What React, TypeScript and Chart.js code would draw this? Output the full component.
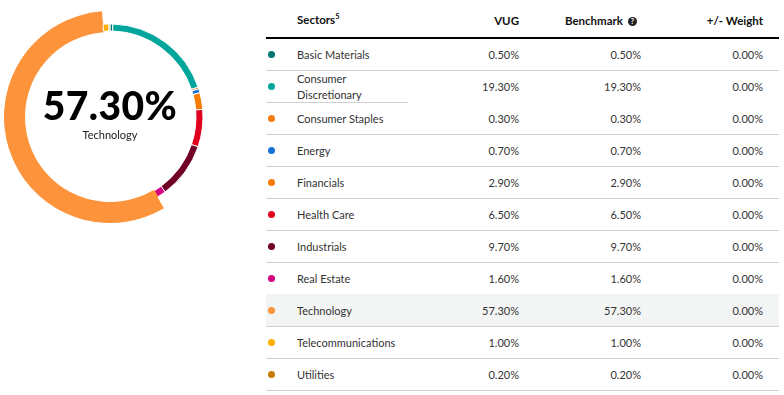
import React, { useEffect, useRef } from "react";
import { Chart, registerables } from "chart.js";

Chart.register(...registerables);

const sectors = [
  "Basic Materials",
  "Consumer Discretionary",
  "Consumer Staples",
  "Energy",
  "Financials",
  "Health Care",
  "Industrials",
  "Real Estate",
  "Technology",
  "Telecommunications",
  "Utilities",
];
const vugValues = [0.5, 19.3, 0.3, 0.7, 2.9, 6.5, 9.7, 1.6, 57.3, 1.0, 0.2];
const benchmarkValues = [0.5, 19.3, 0.3, 0.7, 2.9, 6.5, 9.7, 1.6, 57.3, 1.0, 0.2];
const weightDiff = [0, 0, 0, 0, 0, 0, 0, 0, 0, 0, 0];
const sectorColors = [
  "#00776e",
  "#00a69c",
  "#f57c12",
  "#1673d6",
  "#f77b05",
  "#e2001f",
  "#710026",
  "#d30080",
  "#fd933a",
  "#ffae00",
  "#c77c09",
];
const highlightIndex = 8;

const fmt = (v: number) => v.toFixed(2) + "%";

const FONT = "Lato, 'Open Sans', sans-serif";

function Donut() {
  const ref = useRef<HTMLCanvasElement | null>(null);
  useEffect(() => {
    if (!ref.current) return;
    const chart = new Chart(ref.current, {
      type: "doughnut",
      data: {
        labels: sectors,
        datasets: [
          {
            data: vugValues,
            backgroundColor: sectorColors.map((c, i) => (i === highlightIndex ? c : "rgba(0,0,0,0)")),
            borderWidth: 0,
            hoverBorderWidth: 0,
            offset: 0,
            hoverOffset: 0,
            weight: 13,
          } as any,
          {
            data: vugValues,
            backgroundColor: sectorColors,
            borderColor: (ctx: any) => (ctx.dataIndex === highlightIndex ? sectorColors[highlightIndex] : "#ffffff"),
            borderWidth: (ctx: any) => (ctx.dataIndex === highlightIndex ? 2 : 1),
            hoverBorderWidth: 0,
            offset: 0,
            hoverOffset: 0,
            weight: 7,
          } as any,
        ],
      },
      options: {
        animation: false,
        responsive: true,
        maintainAspectRatio: false,
        cutout: 86,
        events: [],
        layout: { padding: 0 },
        plugins: {
          legend: { display: false },
          tooltip: { enabled: false },
        },
      },
    });
    return () => chart.destroy();
  }, []);
  return (
    <div style={{ position: "absolute", left: 4, top: 11, width: 212, height: 212 }}>
      <canvas ref={ref} />
    </div>
  );
}

const COLS = {
  left: 266,
  right: 779,
  dotX: 271,
  nameX: 297,
  vugRight: 519,
  benchRight: 641,
  weightRight: 763,
};

export default function App() {
  const headerTop = 0;
  const headerH = 37;
  const rowStart = 39;
  const rowH = 32;
  return (
    <div
      style={{
        position: "absolute",
        left: 0,
        top: 0,
        width: 784,
        height: 395,
        background: "#ffffff",
        fontFamily: FONT,
        overflow: "hidden",
      }}
    >
      <Donut />
      <div
        style={{
          position: "absolute",
          left: 10,
          width: 200,
          top: 87.5,
          textAlign: "center",
          fontSize: 39,
          fontWeight: 900,
          color: "#000",
          lineHeight: "34px",
          letterSpacing: 0.4,
        }}
      >
        {fmt(vugValues[highlightIndex])}
      </div>
      <div
        style={{
          position: "absolute",
          left: 10,
          width: 200,
          top: 129,
          textAlign: "center",
          fontSize: 11,
          color: "#222",
          lineHeight: "12px",
        }}
      >
        {sectors[highlightIndex]}
      </div>

      {/* header */}
      <div
        style={{
          position: "absolute",
          left: COLS.left,
          top: headerTop,
          width: COLS.right - COLS.left,
          height: headerH,
          borderBottom: "2px solid #000",
          fontSize: 11.5,
          fontWeight: 700,
          color: "#111",
        }}
      >
        <div style={{ position: "absolute", left: COLS.nameX - COLS.left, top: 13, lineHeight: "14px" }}>
          Sectors<sup style={{ fontSize: 7.5, verticalAlign: "top", position: "relative", top: -3 }}>5</sup>
        </div>
        <div
          style={{
            position: "absolute",
            right: COLS.right - COLS.vugRight,
            top: 14,
            lineHeight: "14px",
          }}
        >
          VUG
        </div>
        <div
          style={{
            position: "absolute",
            right: COLS.right - COLS.benchRight + 4,
            top: 14,
            lineHeight: "14px",
            display: "flex",
            alignItems: "center",
          }}
        >
          Benchmark
          <span
            style={{
              display: "inline-flex",
              alignItems: "center",
              justifyContent: "center",
              width: 9,
              height: 9,
              borderRadius: "50%",
              background: "#222",
              color: "#fff",
              fontSize: 7,
              fontWeight: 900,
              marginLeft: 5,
              lineHeight: "9px",
            }}
          >
            ?
          </span>
        </div>
        <div
          style={{
            position: "absolute",
            right: COLS.right - COLS.weightRight,
            top: 14,
            lineHeight: "14px",
          }}
        >
          +/- Weight
        </div>
      </div>

      {sectors.map((s, i) => {
        const top = rowStart + i * rowH;
        const lineWidth = i === 1 ? 408 - COLS.left : COLS.right - COLS.left;
        return (
          <div key={s}>
            {i === highlightIndex && (
              <div
                style={{
                  position: "absolute",
                  left: COLS.left,
                  top: top - 1,
                  width: COLS.right - COLS.left,
                  height: rowH,
                  background: "#f3f5f4",
                }}
              />
            )}
            <div
              style={{
                position: "absolute",
                left: COLS.dotX - 3.5,
                top: top + 12,
                width: 7,
                height: 7,
                borderRadius: "50%",
                background: sectorColors[i],
              }}
            />
            <div
              style={{
                position: "absolute",
                left: COLS.nameX,
                top: top,
                width: 110,
                height: rowH - 1,
                display: "flex",
                alignItems: "center",
                fontSize: 11,
                lineHeight: "16px",
                color: "#333",
              }}
            >
              {s}
            </div>
            {[
              [vugValues[i], COLS.vugRight],
              [benchmarkValues[i], COLS.benchRight],
              [weightDiff[i], COLS.weightRight],
            ].map(([v, r], k) => (
              <div
                key={k}
                style={{
                  position: "absolute",
                  right: 784 - (r as number),
                  top: top,
                  height: rowH - 1,
                  display: "flex",
                  alignItems: "center",
                  fontSize: 11,
                  color: "#333",
                }}
              >
                {fmt(v as number)}
              </div>
            ))}
            <div
              style={{
                position: "absolute",
                left: COLS.left,
                top: top + rowH - 1,
                width: lineWidth,
                height: 1,
                background: "#d0d0d0",
              }}
            />
          </div>
        );
      })}
    </div>
  );
}
